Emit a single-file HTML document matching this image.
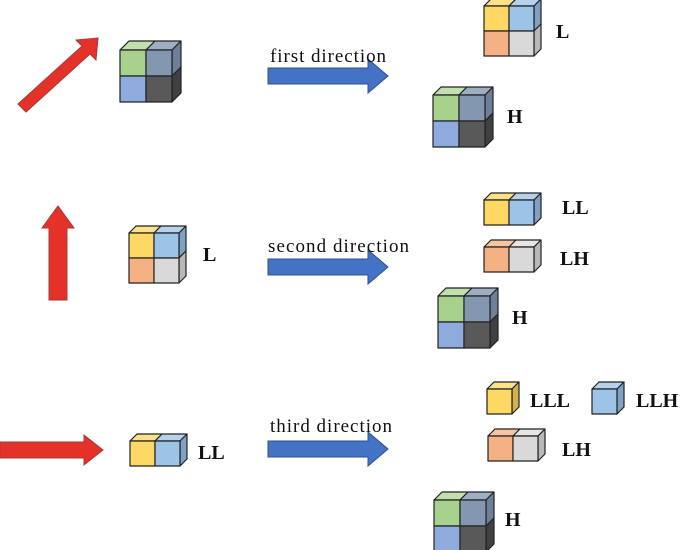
<!DOCTYPE html>
<html><head><style>body{margin:0;background:#fff}svg{display:block}</style></head><body>
<svg id="s" width="685" height="550" xmlns="http://www.w3.org/2000/svg">
<polygon points="18,104 82,46 76,40 98,38 96,60 90,54 26,112" fill="#e53228" stroke="#a33a3a" stroke-width="1"/>
<polygon points="49,300 49,228 42,228 58,206 74,228 67,228 67,300" fill="#e53228" stroke="#a33a3a" stroke-width="1"/>
<polygon points="0,442 84,442 84,435 103,450 84,465 84,458 0,458" fill="#e53228" stroke="#a33a3a" stroke-width="1"/>
<polygon points="268,68 368,68 368,59 388,76 368,93 368,84 268,84" fill="#4472c4" stroke="#2f528f" stroke-width="1"/>
<polygon points="268,259 368,259 368,250 388,267 368,284 368,275 268,275" fill="#4472c4" stroke="#2f528f" stroke-width="1"/>
<polygon points="268,441 368,441 368,432 388,449 368,466 368,457 268,457" fill="#4472c4" stroke="#2f528f" stroke-width="1"/>
<g font-family="Liberation Serif, serif" font-size="19" fill="#111">
<text x="270" y="62" textLength="116">first direction</text>
<text x="268" y="252" textLength="141">second direction</text>
<text x="270" y="432" textLength="122">third direction</text>
</g>
<g font-family="Liberation Serif, serif" font-size="20" font-weight="bold" fill="#111">
<text x="556" y="38">L</text>
<text x="507" y="123">H</text>
<text x="203" y="261">L</text>
<text x="562" y="214">LL</text>
<text x="560" y="265">LH</text>
<text x="512" y="324">H</text>
<text x="198" y="459">LL</text>
<text x="530" y="407">LLL</text>
<text x="636" y="407">LLH</text>
<text x="562" y="456">LH</text>
<text x="505" y="526">H</text>
</g>
<g id="c"></g>
</svg>
<script>
const Y='#fdd865',B='#9dc3e6',G='#a9d18e',S='#8497b0',P='#8faadc',D='#595959',O='#f4b183',R='#d9d9d9';
const side={[Y]:'#d4b24a',[B]:'#7fa2c4',[S]:'#6d7f99',[D]:'#404040',[R]:'#b8b8b8'};
const top_={[Y]:'#fde08a',[B]:'#b5d2ec',[G]:'#c2dfae',[S]:'#9eaec4',[O]:'#f7c6a1',[R]:'#e6e6e6'};
let h='';
function poly(p,f){h+=`<polygon points="${p.map(a=>a.join(',')).join(' ')}" fill="${f}" stroke="#222" stroke-width="1.2" stroke-linejoin="round"/>`;}
function cube(x,y,w,grid,d){
 const rows=grid.length,cols=grid[0].length;
 for(let c=0;c<cols;c++){const x0=x+c*w;poly([[x0,y],[x0+w,y],[x0+w+d,y-d],[x0+d,y-d]],top_[grid[0][c]]||grid[0][c]);}
 for(let r=0;r<rows;r++){const y0=y+r*w,xr=x+cols*w;poly([[xr,y0],[xr+d,y0-d],[xr+d,y0+w-d],[xr,y0+w]],side[grid[r][cols-1]]||grid[r][cols-1]);}
 for(let r=0;r<rows;r++)for(let c=0;c<cols;c++){const x0=x+c*w,y0=y+r*w;poly([[x0,y0],[x0+w,y0],[x0+w,y0+w],[x0,y0+w]],grid[r][c]);}
}
const H=[[G,S],[P,D]];
cube(120,50,26,H,9);
cube(484,6,25,[[Y,B],[O,R]],7);
cube(433,95,26,H,8);
cube(129,233,25,[[Y,B],[O,R]],7);
cube(484,200,25,[[Y,B]],7);
cube(484,247,25,[[O,R]],7);
cube(438,296,26,H,8);
cube(130,441,25,[[Y,B]],7);
cube(487,389,25,[[Y]],7);
cube(592,389,25,[[B]],7);
cube(488,436,25,[[O,R]],7);
cube(434,500,26,H,8);
document.getElementById('c').innerHTML=h;
</script>
</body></html>
